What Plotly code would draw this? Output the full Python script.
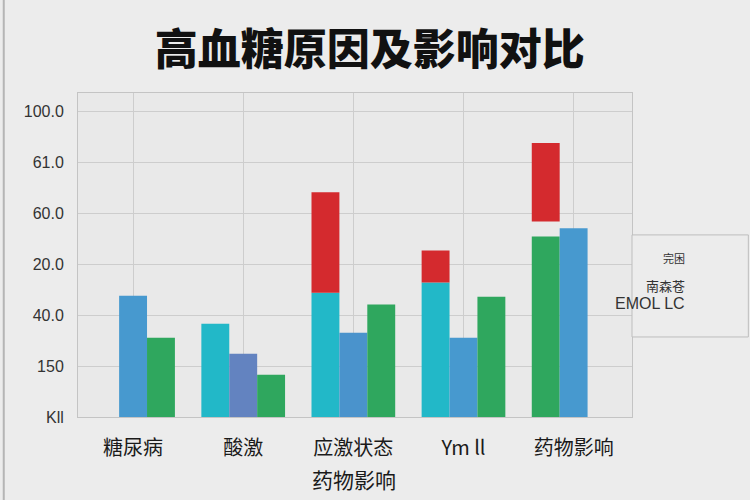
import plotly.graph_objects as go

categories = ["糖尿病", "酸激", "应激状态", "Ym ll", "药物影响"]

# three bar slots per category (left, middle, right)
left_vals = [None, 36.7, 48.9, 52.9, 71.0]
left_colors = ["#22b8c8", "#22b8c8", "#22b8c8", "#22b8c8", "#2fa75e"]
mid_vals = [47.7, 24.9, 33.1, 31.2, 74.2]
mid_colors = ["#4799cf", "#6383c0", "#4a93cc", "#4799cf", "#4799cf"]
right_vals = [31.2, 16.6, 44.2, 47.3, None]
right_colors = ["#2fa75e"] * 5

# red segments on the left slot (base and top)
red_base = [None, None, 48.9, 52.9, 76.9]
red_top = [None, None, 88.4, 65.5, 107.7]
red_height = [None if b is None else t - b for b, t in zip(red_base, red_top)]

ytick_vals = [0, 20, 40, 60, 80, 100, 120]
ytick_text = ["Kll", "150", "40.0", "20.0", "60.0", "61.0", "100.0"]

fig = go.Figure()
fig.add_trace(go.Bar(x=categories, y=left_vals, marker=dict(color=left_colors, line=dict(width=0)),
                     offsetgroup="a", showlegend=False))
fig.add_trace(go.Bar(x=categories, y=mid_vals, marker=dict(color=mid_colors, line=dict(width=0)),
                     offsetgroup="b", showlegend=False))
fig.add_trace(go.Bar(x=categories, y=right_vals, marker=dict(color=right_colors, line=dict(width=0)),
                     offsetgroup="c", showlegend=False))
fig.add_trace(go.Bar(x=categories, y=red_height, base=red_base,
                     marker=dict(color="#d42a2e", line=dict(width=0)),
                     offsetgroup="a", showlegend=False))

fig.update_layout(
    width=750, height=500,
    barmode="group", bargap=0.24, bargroupgap=0,
    paper_bgcolor="#ececec", plot_bgcolor="#e9e9e9",
    margin=dict(l=78, r=118, t=93, b=83, autoexpand=False),
    font=dict(family="Noto Sans CJK SC, Noto Sans, sans-serif", color="#222"),
    title=dict(text="高血糖原因及影响对比", x=0.493, xanchor="center", y=0.9, yanchor="middle",
               font=dict(size=43, color="#111", weight=900)),
    xaxis=dict(range=[-0.5, 4.53], showgrid=True, gridcolor="#cdcdcd", gridwidth=1,
               showline=True, linecolor="#c4c4c4", mirror=True, automargin=False,
               tickfont=dict(size=20, color="#1a1a1a"), ticks="", ticklabelstandoff=13),
    yaxis=dict(range=[0, 127.4], tickvals=ytick_vals, ticktext=ytick_text, automargin=False,
               showgrid=True, gridcolor="#cdcdcd", gridwidth=1,
               showline=True, linecolor="#c4c4c4", mirror=True, zeroline=False,
               tickfont=dict(family="Liberation Sans, Arial, sans-serif", size=16, color="#333"),
               ticks="", ticklabelstandoff=10),
)

# x axis title placed below the tick labels
fig.add_annotation(xref="paper", yref="paper", x=0.498, y=-0.19, yanchor="middle",
                   text="药物影响", showarrow=False, font=dict(size=21, color="#1a1a1a"))

# legend-like box on the right
fig.add_shape(type="rect", xref="paper", yref="paper", x0=1.0, x1=1.21, y0=0.247, y1=0.562,
              line=dict(color="#bdbdbd", width=1), fillcolor="#ececec")
fig.add_annotation(xref="paper", yref="paper", x=1.1, y=0.491, text="完困", showarrow=False,
                   font=dict(size=11, color="#333"))
fig.add_annotation(xref="paper", yref="paper", x=1.1, y=0.405, text="南森苍", showarrow=False,
                   font=dict(size=13, color="#333"))
fig.add_annotation(xref="paper", yref="paper", x=1.1, y=0.318, text="EMOL LC", showarrow=False,
                   font=dict(family="Liberation Sans, Arial, sans-serif", size=16, color="#333"))
# thin frame line on the left edge
fig.add_shape(type="line", xref="paper", yref="paper", x0=-0.134, x1=-0.134, y0=-0.26, y1=1.29,
              line=dict(color="#b5b5b5", width=2))

fig.write_html("out.html", config={"displayModeBar": False},
               post_script="document.body.style.margin='0';document.body.style.background='#ececec';")
